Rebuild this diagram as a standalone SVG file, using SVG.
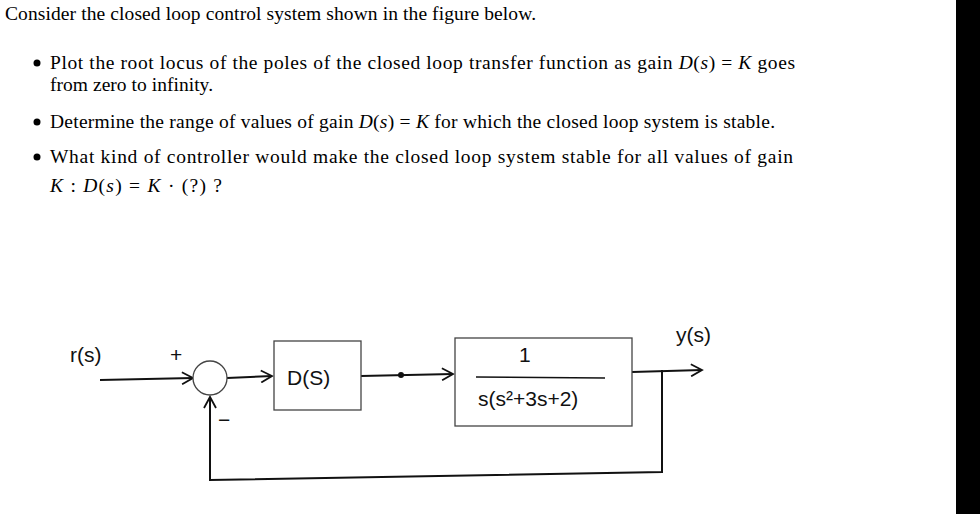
<svg xmlns="http://www.w3.org/2000/svg" width="980" height="514" viewBox="0 0 980 514">
<style>
.t{font-family:"Liberation Serif",serif;font-size:19.5px;fill:#000}
.h{font-family:"Liberation Sans",sans-serif;font-size:21px;fill:#111}
.ln{stroke:#111;stroke-width:2;fill:none}
.bx{stroke:#444;stroke-width:1.3;fill:#fff}
</style>
<defs><marker id="a" markerWidth="14" markerHeight="14" refX="12" refY="7" orient="auto" markerUnits="userSpaceOnUse"><path d="M1,1 L12,7 L1,13" fill="none" stroke="#111" stroke-width="1.8"/></marker></defs>
<rect width="980" height="514" fill="#fff"/>
<rect x="956" y="0" width="24" height="514" fill="#000"/>
<g id="text">
<text class="t" x="5" y="20" textLength="531" lengthAdjust="spacing">Consider the closed loop control system shown in the figure below.</text>
<circle cx="37" cy="63" r="3.5"/>
<text class="t" x="50" y="69" textLength="745" lengthAdjust="spacing">Plot the root locus of the poles of the closed loop transfer function as gain <tspan font-style="italic">D</tspan>(<tspan font-style="italic">s</tspan>) = <tspan font-style="italic">K</tspan> goes</text>
<text class="t" x="50" y="91" textLength="163" lengthAdjust="spacing">from zero to infinity.</text>
<circle cx="37" cy="122" r="3.5"/>
<text class="t" x="50" y="128" textLength="725" lengthAdjust="spacing">Determine the range of values of gain <tspan font-style="italic">D</tspan>(<tspan font-style="italic">s</tspan>) = <tspan font-style="italic">K</tspan> for which the closed loop system is stable.</text>
<circle cx="37" cy="157" r="3.5"/>
<text class="t" x="50" y="163" textLength="743" lengthAdjust="spacing">What kind of controller would make the closed loop system stable for all values of gain</text>
<text class="t" x="50" y="192" textLength="172" lengthAdjust="spacing"><tspan font-style="italic">K</tspan> :  <tspan font-style="italic">D</tspan>(<tspan font-style="italic">s</tspan>) = <tspan font-style="italic">K</tspan> · (?) ?</text>
</g>
<g id="connectors">
<path class="ln" d="M100,380 L193,378" marker-end="url(#a)"/>
<path class="ln" d="M227,378 L272,376" marker-end="url(#a)"/>
<path class="ln" d="M361,376 L453,374" marker-end="url(#a)"/>
<circle cx="401" cy="375" r="3" fill="#111"/>
<path class="ln" d="M632,372 L702,370" marker-end="url(#a)"/>
<path class="ln" d="M662,370 L662,472 L210,480 L210,397" marker-end="url(#a)"/>
</g>
<g id="sum"><circle cx="210" cy="378" r="17" fill="#fff" stroke="#444" stroke-width="1.3"/>
<text class="h" x="170" y="362">+</text><text class="h" x="218" y="427">−</text></g>
<g id="input"><text class="h" x="70" y="362">r(s)</text></g>
<g id="output"><text class="h" x="676" y="342">y(s)</text></g>
<g id="D"><rect class="bx" x="274" y="341" width="87" height="69"/><text class="h" x="287" y="385">D(S)</text></g>
<g id="G"><rect class="bx" x="455" y="338" width="177" height="88"/>
<text class="h" x="519" y="362">1</text><line x1="476" y1="377" x2="605" y2="378" stroke="#111" stroke-width="1.5"/>
<text class="h" x="478" y="406">s(s²+3s+2)</text></g>
</svg>
